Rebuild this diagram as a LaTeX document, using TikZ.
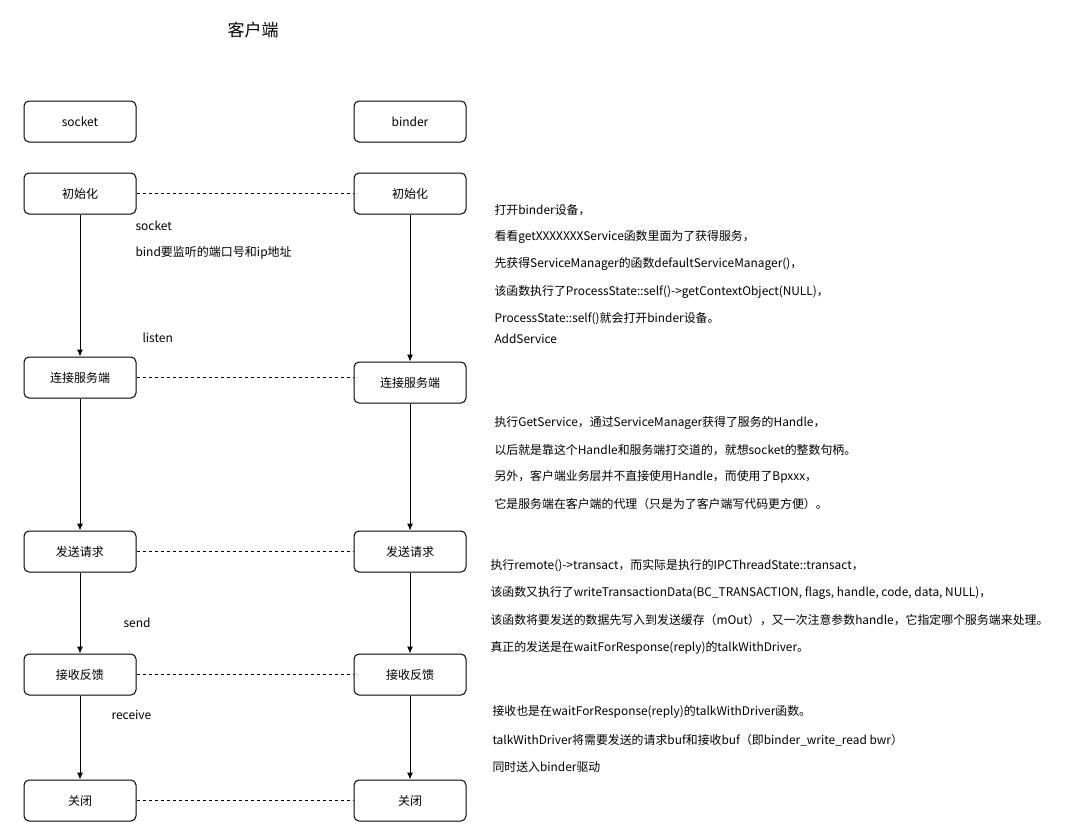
\documentclass[tikz,border=0pt]{standalone}
\usepackage{fontspec}
\setmainfont{Noto Sans CJK SC}
\usetikzlibrary{arrows.meta}
\begin{document}
\begin{tikzpicture}[x=1pt,y=-1pt,line width=1pt,
 box/.style={draw,rounded corners=5pt,minimum width=112pt,minimum height=41pt,font=\fontsize{12}{14}\selectfont,inner sep=0},
 arr/.style={-{Latex[length=7pt,width=6pt]}},
 dl/.style={dashed},
 lbl/.style={anchor=west,font=\fontsize{12}{14}\selectfont,inner sep=0},
 txt/.style={anchor=west,font=\fontsize{11.9}{14}\selectfont,inner sep=0}]
\useasboundingbox (0,0) rectangle (1072,830);
\node[font=\fontsize{17}{20}\selectfont] (t) at (253,30) {客户端};
\node[box] (s0) at (80,121.5) {socket};
\node[box] (b0) at (410,121.5) {binder};
\node[box] (s1) at (80,193.5) {初始化};
\node[box] (b1) at (410,193.5) {初始化};
\node[box] (s2) at (80,377.5) {连接服务端};
\node[box] (b2) at (410,382.5) {连接服务端};
\node[box] (s3) at (80,551.5) {发送请求};
\node[box] (b3) at (410,551.5) {发送请求};
\node[box] (s4) at (80,674.5) {接收反馈};
\node[box] (b4) at (410,674.5) {接收反馈};
\node[box] (s5) at (80,800.5) {关闭};
\node[box] (b5) at (410,800.5) {关闭};
\draw[dl] (s1.east) -- (b1.west);
\draw[dl] (s2.east) -- (s2.east -| b2.west);
\draw[dl] (s3.east) -- (b3.west);
\draw[dl] (s4.east) -- (b4.west);
\draw[dl] (s5.east) -- (b5.west);
\foreach \a/\b in {1/2,2/3,3/4,4/5}{\draw[arr] (s\a) -- (s\b); \draw[arr] (b\a) -- (b\b);}
\node[lbl] (l1) at (135,226) {socket};
\node[lbl] (l2) at (135,253) {bind要监听的端口号和ip地址};
\node[lbl] (l3) at (142,338) {listen};
\node[lbl] (l4) at (123,623) {send};
\node[lbl] (l5) at (111,715) {receive};
\node[txt] (a1) at (494,210) {打开binder设备，};
\node[txt] (a2) at (494,237) {看看getXXXXXXXService函数里面为了获得服务，};
\node[txt] (a3) at (494,264) {先获得ServiceManager的函数defaultServiceManager()，};
\node[txt] (a4) at (494,292) {该函数执行了ProcessState::self()->getContextObject(NULL)，};
\node[txt] (a5) at (494,319) {ProcessState::self()就会打开binder设备。};
\node[txt] (a6) at (494,339) {AddService};
\node[txt] (c1) at (494,423) {执行GetService，通过ServiceManager获得了服务的Handle，};
\node[txt] (c2) at (494,450) {以后就是靠这个Handle和服务端打交道的，就想socket的整数句柄。};
\node[txt] (c3) at (494,477) {另外，客户端业务层并不直接使用Handle，而使用了Bpxxx，};
\node[txt] (c4) at (494,504) {它是服务端在客户端的代理（只是为了客户端写代码更方便）。};
\node[txt] (d1) at (490,566) {执行remote()->transact，而实际是执行的IPCThreadState::transact，};
\node[txt] (d2) at (490,593) {该函数又执行了writeTransactionData(BC\_TRANSACTION, flags, handle, code, data, NULL)，};
\node[txt] (d3) at (490,620) {该函数将要发送的数据先写入到发送缓存（mOut），又一次注意参数handle，它指定哪个服务端来处理。};
\node[txt] (d4) at (490,648) {真正的发送是在waitForResponse(reply)的talkWithDriver。};
\node[txt] (e1) at (492,712) {接收也是在waitForResponse(reply)的talkWithDriver函数。};
\node[txt] (e2) at (492,740) {talkWithDriver将需要发送的请求buf和接收buf（即binder\_write\_read bwr）};
\node[txt] (e3) at (492,767) {同时送入binder驱动};
\end{tikzpicture}
\end{document}
